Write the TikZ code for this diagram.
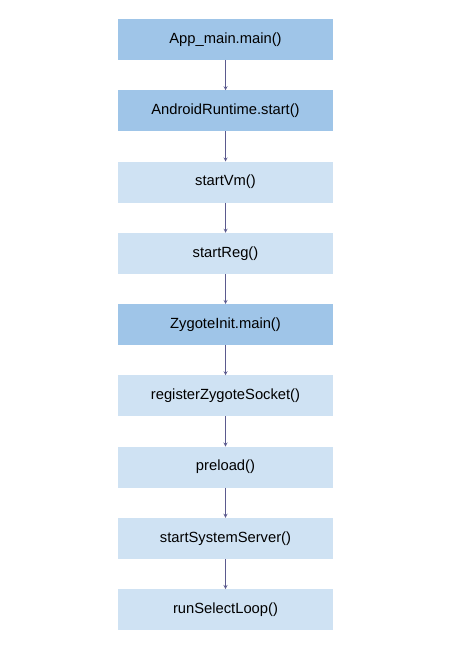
\documentclass[tikz,border=0pt]{standalone}
\usepackage{fontspec}
\setmainfont{Liberation Sans}
\usepackage{tikz}
\usetikzlibrary{arrows,positioning}
\definecolor{darkbox}{HTML}{9FC5E8}
\definecolor{lightbox}{HTML}{CFE2F3}
\definecolor{arrowcol}{HTML}{5B5A8E}

\begin{document}
\begin{tikzpicture}[x=1bp,y=1bp,
  callbox/.style={minimum width=215bp,minimum height=41bp,inner sep=0pt,outer sep=0pt,font=\fontsize{14.8}{17}\selectfont},
  dark/.style={callbox,fill=darkbox},
  light/.style={callbox,fill=lightbox},
  flow/.style={draw=arrowcol,line width=0.8pt,-stealth},
  node distance=30.25bp]
\useasboundingbox (0,0) rectangle (471,-645);
\node[dark] (appmain) at (225.5,-39.5) {App\_main.main()};
\node[dark,below=of appmain] (runtime) {AndroidRuntime.start()};
\node[light,below=of runtime] (startvm) {startVm()};
\node[light,below=of startvm] (startreg) {startReg()};
\node[dark,below=of startreg] (zygote) {ZygoteInit.main()};
\node[light,below=of zygote] (socket) {registerZygoteSocket()};
\node[light,below=of socket] (preload) {preload()};
\node[light,below=of preload] (sysserver) {startSystemServer()};
\node[light,below=of sysserver] (loop) {runSelectLoop()};
\draw[flow] (appmain) -- (runtime);
\draw[flow] (runtime) -- (startvm);
\draw[flow] (startvm) -- (startreg);
\draw[flow] (startreg) -- (zygote);
\draw[flow] (zygote) -- (socket);
\draw[flow] (socket) -- (preload);
\draw[flow] (preload) -- (sysserver);
\draw[flow] (sysserver) -- (loop);
\end{tikzpicture}
\end{document}
